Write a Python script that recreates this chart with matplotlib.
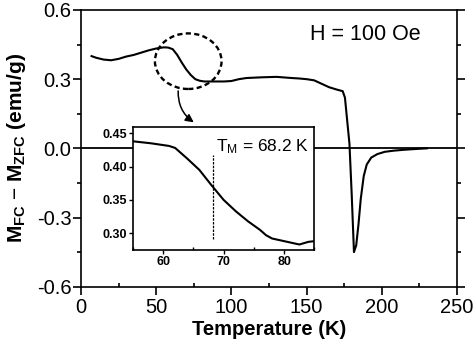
import matplotlib
matplotlib.use("Agg")
import matplotlib.pyplot as plt
from matplotlib.patches import Ellipse, FancyArrowPatch
from matplotlib.ticker import MultipleLocator

plt.rcParams['font.family'] = ['Liberation Sans', 'DejaVu Sans']
plt.rcParams['mathtext.fontset'] = 'custom'
plt.rcParams['mathtext.rm'] = 'Liberation Sans'
plt.rcParams['mathtext.bf'] = 'Liberation Sans:bold'
plt.rcParams['mathtext.it'] = 'Liberation Sans'

# ---- data ----
temp = [7, 10, 15, 20, 25, 30, 35, 40, 45, 50, 55, 58, 61, 64, 67, 70, 73, 76, 79,
        82, 85, 90, 95, 100, 105, 110, 120, 130, 140, 145, 150, 155, 160, 165, 170,
        174, 175.5, 177, 178.5, 180, 181.5, 183, 184.5, 186, 188, 190, 193, 197, 202,
        208, 215, 222, 230]
dm = [0.400, 0.393, 0.385, 0.382, 0.388, 0.398, 0.405, 0.415, 0.425, 0.433, 0.438,
      0.437, 0.430, 0.405, 0.372, 0.342, 0.318, 0.300, 0.293, 0.290, 0.290, 0.290,
      0.290, 0.292, 0.300, 0.305, 0.308, 0.310, 0.305, 0.303, 0.300, 0.295, 0.280,
      0.265, 0.255, 0.248, 0.220, 0.120, 0.020, -0.200, -0.450, -0.420, -0.330,
      -0.220, -0.120, -0.070, -0.040, -0.025, -0.015, -0.010, -0.006, -0.003, 0.000]

inset_temp = [55, 58, 61, 62, 64, 66, 68, 70, 72, 74, 76, 77, 78, 80, 82.5, 84, 85]
inset_dm = [0.438, 0.435, 0.431, 0.428, 0.412, 0.395, 0.372, 0.350, 0.333, 0.318,
            0.305, 0.297, 0.292, 0.288, 0.283, 0.287, 0.288]

t_m = 68.2
field_label = "H = 100 Oe"
main_xticks = [0, 50, 100, 150, 200, 250]
main_yticks = [-0.6, -0.3, 0.0, 0.3, 0.6]
inset_xticks = [60, 70, 80]
inset_yticks = [0.30, 0.35, 0.40, 0.45]

# ---- figure ----
fig = plt.figure(figsize=(4.74, 3.48), dpi=100)
ax = fig.add_axes([0.1709, 0.1761, 0.9641 - 0.1709, 0.9713 - 0.1761])

ax.plot(temp, dm, color='black', lw=1.5, zorder=3)
ax.axhline(0, color='black', lw=1.3, zorder=2)
ax.set_xlim(0, 250)
ax.set_ylim(-0.6, 0.6)
ax.set_xticks(main_xticks)
ax.set_yticks(main_yticks)
ax.set_yticklabels(['-0.6', '-0.3', '0.0', '0.3', '0.6'])
ax.xaxis.set_minor_locator(MultipleLocator(25))
ax.yaxis.set_minor_locator(MultipleLocator(0.15))
for s in ax.spines.values():
    s.set_linewidth(1.2)
ax.tick_params(axis='both', which='major', labelsize=14.5, width=1.2, length=6, pad=1)
ax.tick_params(axis='y', which='both', direction='out', right=True)
ax.tick_params(axis='y', which='minor', length=3, width=1.2)
ax.tick_params(axis='x', which='major', direction='out', pad=2)
ax.tick_params(axis='x', which='minor', direction='in', length=3, width=1.2)

ax.set_xlabel('Temperature (K)', fontsize=14.5, fontweight='bold', labelpad=2)
fig.text(17 / 474, 0.576, r'M$_{\mathbf{FC}}$ $-$ M$_{\mathbf{ZFC}}$ (emu/g)',
         rotation=90, ha='center', va='center', fontsize=15, fontweight='bold')

ax.text(152.3, 0.492, field_label, fontsize=15.5, ha='left', va='center')

# dashed ellipse and curved arrow
ell = Ellipse((71.3, 0.378), 44.3, 0.241, fill=False, ls=(0, (2.2, 1.4)),
              lw=1.7, color='black', zorder=4)
ax.add_patch(ell)
arr = FancyArrowPatch((64.7, 0.261), (76.5, 0.106), connectionstyle='arc3,rad=0.3',
                      arrowstyle='-|>', mutation_scale=12, lw=1.1, color='black',
                      zorder=4)
ax.add_patch(arr)

# ---- inset ----
axi = fig.add_axes([0.28, 0.2802, 0.6635 - 0.28, 0.6342 - 0.2802])
axi.set_zorder(5)
axi.set_facecolor('white')
axi.plot(inset_temp, inset_dm, color='black', lw=1.5)
axi.axvline(t_m, ymin=(0.291 - 0.274) / (0.459 - 0.274),
            ymax=(0.417 - 0.274) / (0.459 - 0.274), color='black', lw=0.9,
            ls=(0, (2, 1)))
axi.set_xlim(55, 85)
axi.set_ylim(0.274, 0.459)
axi.set_xticks(inset_xticks)
axi.set_yticks(inset_yticks)
axi.set_yticklabels(['0.30', '0.35', '0.40', '0.45'])
axi.xaxis.set_minor_locator(MultipleLocator(5))
axi.yaxis.set_minor_locator(MultipleLocator(0.025))
for s in axi.spines.values():
    s.set_linewidth(1.2)
axi.tick_params(axis='both', which='major', labelsize=9, direction='out',
                length=3, width=1, pad=1)
axi.tick_params(axis='y', which='minor', length=0)
axi.tick_params(axis='x', which='minor', direction='in', length=2, width=1)
for lab in axi.get_xticklabels() + axi.get_yticklabels():
    lab.set_fontweight('bold')
axi.text(68.8, 0.423, r'T$_{\mathrm{M}}$ = %.1f K' % t_m, fontsize=12.5,
         ha='left', va='baseline')

fig.savefig('out.png', dpi=100)
